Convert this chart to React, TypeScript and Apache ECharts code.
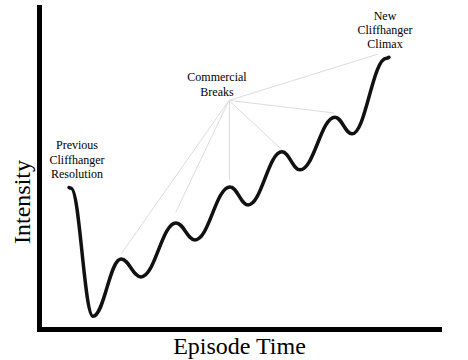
import React, { useEffect, useRef } from "react";
import * as echarts from "echarts";

// Episode time (minutes) and intensity (0-100)
const curveTime = [2.95, 3.15, 5.35, 8.15, 10.15, 13.65, 15.55, 19.05, 20.85, 24.25, 26.05, 29.55, 31.25, 34.7, 34.95];
const curveIntensity = [44.0, 43.8, 4.0, 21.8, 16.2, 33.0, 27.7, 44.2, 38.6, 55.1, 49.5, 65.9, 60.7, 84.2, 84.5];

// Pointer lines from the "Commercial Breaks" label
const breakAnchor = [18.95, 71.1];
const breakTime = [8.22, 13.62, 18.95, 24.22, 29.45, 33.85];
const breakIntensity = [23.6, 36.3, 46.3, 55.8, 67.2, 85.5];

const xAxisTitle = "Episode Time";
const yAxisTitle = "Intensity";
const labelPrevious = "Previous\nCliffhanger\nResolution";
const labelBreaks = "Commercial\nBreaks";
const labelClimax = "New\nCliffhanger\nClimax";

const FONT = "Liberation Serif";

export default function App() {
  const ref = useRef<HTMLDivElement>(null);
  useEffect(() => {
    if (!ref.current) return;
    const chart = echarts.init(ref.current, null, { renderer: "svg" });
    const curve = curveTime.map((t, i) => [t, curveIntensity[i]]);
    const pointers = breakTime.map((t, i) => [
      { coord: [breakAnchor[0], breakAnchor[1]] },
      { coord: [t, breakIntensity[i]] },
    ]);
    const axisLine = { show: true, lineStyle: { color: "#000", width: 5, cap: "square" } };
    const txt = (text: string, size: number, lh: number) => ({
      text,
      fontFamily: FONT,
      fontSize: size,
      lineHeight: lh,
      fill: "#000",
      align: "center",
      verticalAlign: "middle",
    });
    chart.setOption({
      animation: false,
      backgroundColor: "#fff",
      grid: { left: 39.5, right: 28.5, top: 7.5, bottom: 31 },
      xAxis: {
        type: "value",
        min: 0,
        max: 40,
        axisLine,
        axisTick: { show: false },
        axisLabel: { show: false },
        splitLine: { show: false },
      },
      yAxis: {
        type: "value",
        min: 0,
        max: 100,
        axisLine,
        axisTick: { show: false },
        axisLabel: { show: false },
        splitLine: { show: false },
      },
      series: [
        {
          type: "line",
          data: [],
          z: 1,
          markLine: {
            silent: true,
            symbol: ["none", "none"],
            label: { show: false },
            lineStyle: { color: "#dddddd", width: 1, type: "solid" },
            data: pointers,
          },
        },
        {
          type: "line",
          data: curve,
          z: 3,
          smooth: 0.4,
          smoothMonotone: "x",
          symbol: "none",
          lineStyle: { color: "#111", width: 3.5, cap: "round" },
        },
      ],
      graphic: [
        { type: "text", x: 239.5, y: 346, style: txt(xAxisTitle, 24, 28) },
        { type: "text", x: 22, y: 202, rotation: Math.PI / 2, style: txt(yAxisTitle, 24, 28) },
        { type: "text", x: 77, y: 159.5, style: txt(labelPrevious, 12, 14.3) },
        { type: "text", x: 217, y: 84, style: txt(labelBreaks, 12, 15) },
        { type: "text", x: 385, y: 30, style: txt(labelClimax, 12, 14.3) },
      ],
    });
    return () => chart.dispose();
  }, []);
  return (
    <div
      ref={ref}
      style={{ position: "absolute", left: 0, top: 0, width: 468, height: 360 }}
    />
  );
}
